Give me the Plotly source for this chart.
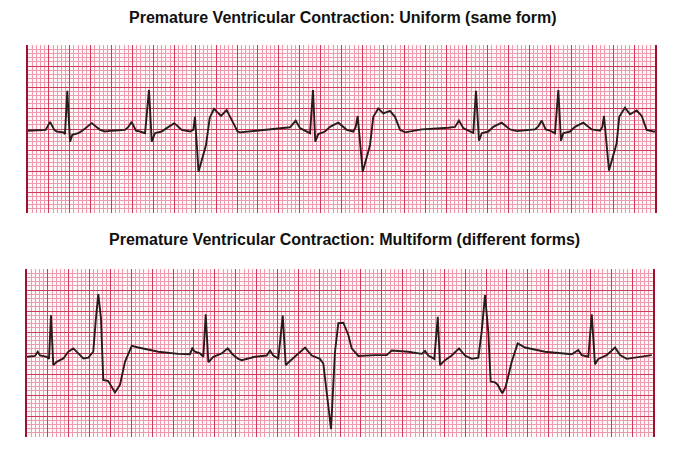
import plotly.graph_objects as go

# ECG strips, time in seconds (25 mm/s paper), amplitude in mV (10 mm/mV)

# -------- uniform PVCs --------
uni_t = [0.0, 0.169, 0.211, 0.252, 0.275, 0.338, 0.354, 0.376, 0.402, 0.424,
         0.481, 0.520, 0.610, 0.689, 0.737, 0.801, 0.928, 0.960, 0.992, 1.033,
         1.072, 1.120, 1.158, 1.184, 1.215, 1.279, 1.327, 1.400, 1.471, 1.550,
         1.582, 1.598, 1.632, 1.703, 1.739, 1.780, 1.847, 1.901, 1.965, 2.005,
         2.029, 2.300, 2.507, 2.536, 2.562, 2.603, 2.667, 2.699, 2.727, 2.749,
         2.778, 2.842, 2.890, 2.969, 3.050, 3.113, 3.136, 3.155, 3.203, 3.273,
         3.304, 3.352, 3.400, 3.464, 3.512, 3.560, 3.608, 3.767, 4.022, 4.086,
         4.124, 4.166, 4.213, 4.261, 4.287, 4.316, 4.342, 4.405, 4.453, 4.533,
         4.612, 4.676, 4.852, 4.885, 4.916, 4.954, 4.995, 5.043, 5.075, 5.100,
         5.122, 5.187, 5.234, 5.314, 5.394, 5.474, 5.496, 5.512, 5.560, 5.633,
         5.658, 5.713, 5.761, 5.825, 5.873, 5.920, 5.984, 6.0]
uni_mv = [-0.04, -0.02, 0.17, -0.02, -0.06, -0.08, -0.12, 0.91, -0.30, -0.14,
          -0.10, -0.04, 0.14, -0.02, -0.06, -0.04, -0.02, 0.05, 0.17, -0.04,
          -0.06, -0.10, 0.93, -0.30, -0.10, -0.06, 0.02, 0.14, -0.02, -0.06,
          -0.02, 0.29, -1.02, -0.39, 0.27, 0.48, 0.31, 0.45, 0.14, -0.06,
          -0.08, -0.01, 0.04, 0.12, 0.20, 0.02, -0.06, -0.10, 0.93, -0.30,
          -0.12, -0.06, 0.05, 0.15, -0.02, -0.06, 0.05, 0.31, -1.02, -0.38,
          0.29, 0.49, 0.37, 0.43, 0.29, -0.02, -0.08, -0.01, 0.03, 0.05,
          0.20, 0.02, -0.04, -0.09, 0.91, -0.28, -0.10, -0.06, 0.05, 0.15,
          -0.01, -0.05, -0.01, 0.07, 0.20, -0.01, -0.04, -0.10, 0.93, -0.28,
          -0.10, -0.06, 0.05, 0.15, -0.01, -0.04, 0.05, 0.31, -0.99, -0.34,
          0.29, 0.51, 0.35, 0.44, 0.31, -0.02, -0.06, -0.06]

# -------- multiform PVCs --------
multi_t = [0.0, 0.077, 0.103, 0.125, 0.189, 0.211, 0.230, 0.252, 0.285, 0.348,
           0.396, 0.444, 0.492, 0.540, 0.588, 0.635, 0.658, 0.683, 0.709, 0.731,
           0.779, 0.843, 0.891, 0.939, 1.004, 1.067, 1.259, 1.450, 1.562, 1.584,
           1.610, 1.658, 1.690, 1.713, 1.738, 1.786, 1.866, 1.924, 1.977, 2.025,
           2.058, 2.185, 2.298, 2.329, 2.361, 2.409, 2.451, 2.480, 2.521, 2.585,
           2.665, 2.729, 2.808, 2.840, 2.914, 2.952, 2.984, 3.032, 3.080, 3.112,
           3.176, 3.336, 3.448, 3.496, 3.655, 3.783, 3.815, 3.846, 3.904, 3.937,
           3.959, 4.006, 4.071, 4.141, 4.198, 4.262, 4.326, 4.358, 4.390, 4.421,
           4.444, 4.486, 4.512, 4.556, 4.588, 4.646, 4.703, 4.773, 4.965, 5.221,
           5.284, 5.317, 5.380, 5.413, 5.444, 5.476, 5.556, 5.636, 5.684, 5.748,
           5.859, 5.988]
multi_mv = [-0.09, -0.07, 0.03, -0.06, -0.09, -0.14, 0.90, -0.29, -0.21, -0.13,
            0.03, 0.11, -0.01, -0.13, -0.11, 0.03, 0.75, 1.40, 0.83, -0.64,
            -0.67, -0.94, -0.76, -0.21, 0.17, 0.13, 0.03, -0.02, -0.03, 0.11,
            0.03, -0.01, -0.09, 0.92, -0.22, -0.09, -0.01, 0.11, -0.05, -0.14,
            -0.17, -0.09, -0.06, 0.06, -0.06, -0.13, 0.89, -0.29, -0.19, -0.05,
            0.13, -0.06, -0.14, -0.25, -1.81, 0.03, 0.71, 0.72, 0.43, 0.11,
            -0.07, -0.05, -0.05, 0.06, 0.03, -0.02, 0.05, -0.06, -0.14, 0.86,
            -0.29, -0.17, -0.06, 0.11, -0.06, -0.14, -0.11, 0.51, 1.38, 0.51,
            -0.68, -0.70, -0.76, -0.96, -0.80, -0.21, 0.23, 0.13, 0.03, -0.03,
            0.07, -0.05, -0.09, 0.92, -0.27, -0.14, -0.05, 0.13, -0.05, -0.14,
            -0.09, -0.05]

titles = ["Premature Ventricular Contraction: Uniform (same form)",
          "Premature Ventricular Contraction: Multiform (different forms)"]

# the page puts the plot 8px in from the top-left corner
OFF = 8
W, H = 686 - 2 * OFF, 457 - 2 * OFF
trace_color = "#2a1b1b"
major_col = "#cf3a5a"
minor_col = "#ec9aae"
mark_col = "#9e1230"


def px(x):
    return (x - OFF) / W


def py(y):
    return 1 - (y - OFF) / H


fig = go.Figure()
fig.add_trace(go.Scatter(x=uni_t, y=uni_mv, mode="lines",
                         line=dict(color=trace_color, width=1.9),
                         xaxis="x", yaxis="y", hoverinfo="skip"))
fig.add_trace(go.Scatter(x=multi_t, y=multi_mv, mode="lines",
                         line=dict(color=trace_color, width=1.9),
                         xaxis="x2", yaxis="y2", hoverinfo="skip"))


def grid_x(domain, anchor):
    return dict(domain=domain, anchor=anchor, range=[0, 6], dtick=0.2, tick0=0,
                showgrid=True, gridcolor=major_col, gridwidth=1,
                minor=dict(dtick=0.04, showgrid=True, gridcolor=minor_col,
                           gridwidth=0.8, ticks=""),
                showticklabels=False, ticks="", zeroline=False,
                showline=False, fixedrange=True)


def grid_y(domain, anchor):
    return dict(domain=domain, anchor=anchor, range=[-2, 2], dtick=0.5, tick0=0,
                showgrid=True, gridcolor=major_col, gridwidth=1,
                minor=dict(dtick=0.1, showgrid=True, gridcolor=minor_col,
                           gridwidth=0.8, ticks=""),
                showticklabels=False, ticks="", zeroline=False,
                showline=True, linecolor=mark_col, linewidth=1.5,
                mirror=True, fixedrange=True)


def second_marks(over, anchor):
    # one mark per second above the strip
    return dict(overlaying=over, anchor=anchor, side="top", range=[0, 6],
                dtick=1, tick0=0, ticks="outside", ticklen=13,
                tickwidth=1.5, tickcolor=mark_col, showgrid=False,
                showticklabels=False, zeroline=False, showline=False,
                fixedrange=True)


fig.update_layout(
    width=W, height=H,
    margin=dict(l=0, r=0, t=0, b=0),
    paper_bgcolor="white",
    plot_bgcolor="#fff8f9",
    showlegend=False,
    xaxis=grid_x([px(28), px(655)], "y"),
    yaxis=grid_y([py(213), py(45)], "x"),
    xaxis2=grid_x([px(27), px(653)], "y2"),
    yaxis2=grid_y([py(437), py(269)], "x2"),
    xaxis3=second_marks("x", "y"),
    xaxis4=second_marks("x2", "y2"),
)

title_font = dict(family="Liberation Sans, Arial, sans-serif", size=16,
                  color="#111111")
fig.add_annotation(text="<b>" + titles[0] + "</b>", xref="paper", yref="paper",
                   x=px(343), y=py(17), showarrow=False,
                   xanchor="center", yanchor="middle", font=title_font)
fig.add_annotation(text="<b>" + titles[1] + "</b>", xref="paper", yref="paper",
                   x=px(344), y=py(240), showarrow=False,
                   xanchor="center", yanchor="middle", font=title_font)

fig.write_html("out.html")
